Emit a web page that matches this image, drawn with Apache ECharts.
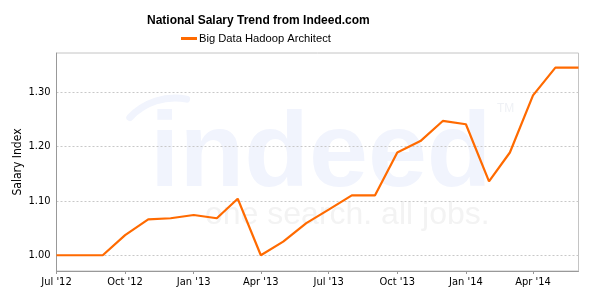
<!DOCTYPE html>
<html><head><meta charset="utf-8">
<script src="https://cdn.jsdelivr.net/npm/echarts@6/dist/echarts.min.js"></script>
<style>html,body{margin:0;padding:0;background:#fff}#c{width:596px;height:296px}</style>
</head><body><div id="c"></div>
<script>
const months = ['2012-07','2012-08','2012-09','2012-10','2012-11','2012-12',
  '2013-01','2013-02','2013-03','2013-04','2013-05','2013-06',
  '2013-07','2013-08','2013-09','2013-10','2013-11','2013-12',
  '2014-01','2014-02','2014-03','2014-04','2014-05','2014-06'];
const values = [1.000,1.000,1.000,1.037,1.066,1.068,
  1.074,1.068,1.104,1.000,1.025,1.059,
  1.084,1.110,1.110,1.189,1.210,1.247,
  1.241,1.136,1.189,1.294,1.345,1.345];
const xTickMonths = ['2012-07','2012-10','2013-01','2013-04','2013-07','2013-10','2014-01','2014-04'];
const yTicks = [1.00,1.10,1.20,1.30];
const seriesName = 'Big Data Hadoop Architect';
const monthAbbr = ['Jan','Feb','Mar','Apr','May','Jun','Jul','Aug','Sep','Oct','Nov','Dec'];

// day index since 2012-07-01 (UTC, avoids DST)
const DAY = 86400000;
const base = Date.UTC(2012,6,1);
function dayIdx(s){const p=s.split('-');return (Date.UTC(+p[0],+p[1]-1,1)-base)/DAY;}
const data = months.map((m,i)=>[dayIdx(m),values[i]]);
const xTickVals = xTickMonths.map(dayIdx);
const labelFont = 'DejaVu Sans Condensed, DejaVu Sans, sans-serif';
const textFont = 'Liberation Sans, Arial, sans-serif';

const chart = echarts.init(document.getElementById('c'));
chart.setOption({
  animation:false,
  backgroundColor:'#fff',
  title:{
    left:142, top:10,
    text:'{b|National Salary Trend}{n| from Indeed.com}',
    textStyle:{rich:{
      b:{fontFamily:textFont,fontWeight:'bold',fontSize:12,color:'#000'},
      n:{fontFamily:textFont,fontSize:12,color:'#000'}
    }}
  },
  legend:{
    top:33, left:181, itemWidth:16, itemHeight:3, itemGap:10, padding:0,
    textStyle:{fontFamily:textFont,fontSize:11.2,color:'#000',padding:[0,0,0,-3]},
    data:[{name:seriesName,icon:'rect'}]
  },
  graphic:[
    {type:'arc',z:-10,silent:true,shape:{cx:175,cy:160,r:62,startAngle:Math.PI*1.24,endAngle:Math.PI*1.56},
      style:{stroke:'#f1f4fd',lineWidth:7,fill:null,lineCap:'round'}},
    {type:'text',z:-10,silent:true,x:150,y:210,style:{text:'indeed',fontFamily:textFont,fontWeight:'bold',fontSize:106,fill:'#f1f4fd',textVerticalAlign:'bottom'}},
    {type:'text',z:-10,silent:true,x:497,y:103,style:{text:'TM',fontFamily:textFont,fontSize:12,fill:'#eff1f5'}},
    {type:'text',z:-10,silent:true,x:205,y:231,style:{text:'one search. all jobs.',fontFamily:textFont,fontSize:32,fill:'#f3f3f3',textVerticalAlign:'bottom'}}
  ],
  grid:{left:56.5,right:17.5,top:53,bottom:25,show:true,borderColor:'#c4c4c4',borderWidth:1,backgroundColor:'transparent',
    containLabel:false,outerBoundsMode:'none'},
  xAxis:{
    type:'value', min:0, max:dayIdx('2014-06'),
    axisLine:{show:true,lineStyle:{color:'#999',width:1}},
    axisTick:{show:true,length:3,lineStyle:{color:'#999'},customValues:xTickVals},
    axisLabel:{customValues:xTickVals,color:'#000',fontFamily:labelFont,fontSize:11,margin:6,
      formatter:v=>{const d=new Date(base+v*DAY);return monthAbbr[d.getUTCMonth()]+" '"+String(d.getUTCFullYear()).slice(2);}},
    splitLine:{show:false}
  },
  yAxis:{
    type:'value', min:0.971, max:1.372,
    name:'Salary Index', nameLocation:'middle', nameGap:33, nameRotate:90, nameMoveOverlap:false,
    nameTextStyle:{fontFamily:labelFont,fontSize:12,color:'#000'},
    axisLine:{show:true,lineStyle:{color:'#999',width:1}},
    axisTick:{show:false,customValues:yTicks},
    axisLabel:{customValues:yTicks,color:'#000',fontFamily:labelFont,fontSize:11,margin:6,formatter:v=>v.toFixed(2)},
    splitLine:{show:true,lineStyle:{color:'#c8c8c8',type:[2,2],width:1}}
  },
  series:[{
    name:seriesName, type:'line', data:data, symbol:'none',
    lineStyle:{color:'#ff6a00',width:2.2}, itemStyle:{color:'#ff6a00'}, z:5
  }]
});
</script></body></html>
